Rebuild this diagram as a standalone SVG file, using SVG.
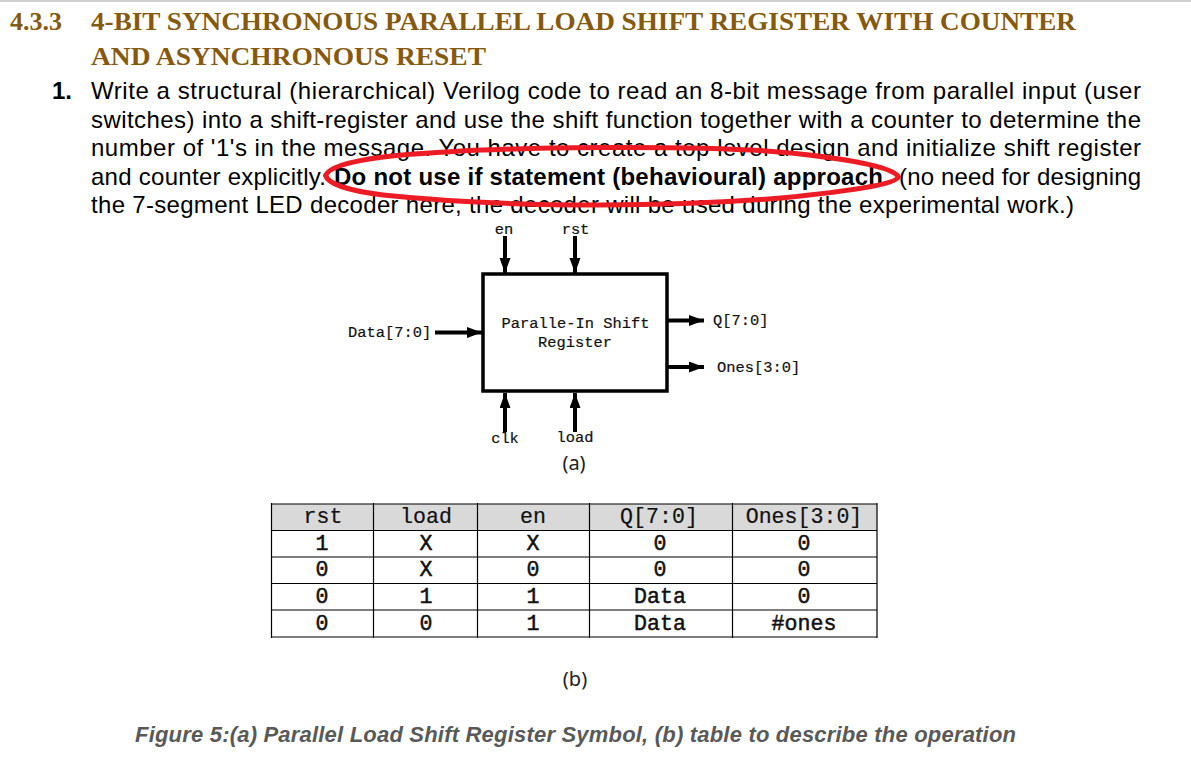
<svg xmlns="http://www.w3.org/2000/svg" width="1191" height="765" viewBox="0 0 1191 765">
<style>
.h{font:bold 25.5px "Liberation Serif",serif;fill:#855a0f}
.b{font:24px "Liberation Sans",Arial,sans-serif;fill:#000}
.bb{font:bold 24px "Liberation Sans",Arial,sans-serif;fill:#000}
.m{font:15.4px "Liberation Mono","Courier New",monospace;fill:#111;stroke:#111;stroke-width:.2}
.t{font:21.6px "Liberation Mono","Courier New",monospace;fill:#111;text-anchor:middle;stroke:#111;stroke-width:.2}
.d{stroke-width:.5}
.c{font:20px "Noto Sans","Open Sans",sans-serif;fill:#222;text-anchor:middle}
.cap{font:italic bold 22px "Liberation Sans",Arial,sans-serif;fill:#595959}
.w{stroke:#000;stroke-width:4;fill:none;marker-end:url(#a)}
.g{stroke:#000;stroke-width:1.2;fill:none}
</style>
<defs><marker id="a" markerUnits="userSpaceOnUse" markerWidth="16" markerHeight="12" refX="15" refY="5.500" orient="auto"><path d="M0 0L15 5.500L0 11z" fill="#000"/></marker></defs>
<rect width="1191" height="2" fill="#cfcfcf"/>
<g id="heading">
<text class="h" x="10" y="30" textLength="52" lengthAdjust="spacingAndGlyphs">4.3.3</text>
<text class="h" x="91" y="30" textLength="985" lengthAdjust="spacingAndGlyphs">4-BIT SYNCHRONOUS PARALLEL LOAD SHIFT REGISTER WITH COUNTER</text>
<text class="h" x="91" y="65" textLength="395" lengthAdjust="spacingAndGlyphs">AND ASYNCHRONOUS RESET</text>
</g>
<g id="paragraph">
<text class="bb" x="52" y="99">1.</text>
<text class="b" x="91" y="99" textLength="1050">Write a structural (hierarchical) Verilog code to read an 8-bit message from parallel input (user</text>
<text class="b" x="91" y="128" textLength="1050">switches) into a shift-register and use the shift function together with a counter to determine the</text>
<text class="b" x="91" y="156" textLength="1050">number of '1's in the message. You have to create a top level design and initialize shift register</text>
<text class="b" x="91" y="185" textLength="235">and counter explicitly.</text>
<text class="bb" x="334" y="185" textLength="549">Do not use if statement (behavioural) approach</text>
<text class="b" x="899" y="185" textLength="242">(no need for designing</text>
<text class="b" x="91" y="213" textLength="983">the 7-segment LED decoder here, the decoder will be used during the experimental work.)</text>
</g>
<path id="highlight" d="M325.500 175.500C329 167 352 161 383 157C440 151 520 148 600 147.500C680 147 750 148 800 154C855 160 894 168 898.500 177C895 184 860 190 781 198C720 203 660 205 600 205C520 205 450 202 383 195C350 191 328 184 325.500 175.500Z" fill="none" stroke="#ed1c24" stroke-width="5"/>
<g id="connectors">
<path class="w" d="M505 236V273"/>
<path class="w" d="M575 236V273"/>
<path class="w" d="M435 332.500H482"/>
<path class="w" d="M668 320.500H704"/>
<path class="w" d="M668 367H704"/>
<path class="w" d="M505 432V393"/>
<path class="w" d="M575 432V393"/>
</g>
<g id="register">
<rect x="483" y="274" width="184" height="117" fill="#fff" stroke="#000" stroke-width="3.500"/>
<text class="m" x="575.500" y="328" text-anchor="middle">Paralle-In Shift</text>
<text class="m" x="575" y="347" text-anchor="middle">Register</text>
</g>
<g id="labels">
<text class="m" x="504" y="234" text-anchor="middle">en</text>
<text class="m" x="575.500" y="234" text-anchor="middle">rst</text>
<text class="m" x="348" y="337">Data[7:0]</text>
<text class="m" x="713" y="325">Q[7:0]</text>
<text class="m" x="717" y="372">Ones[3:0]</text>
<text class="m" x="505" y="443" text-anchor="middle">clk</text>
<text class="m" x="575" y="442" text-anchor="middle">load</text>
<text class="c" x="574" y="470">(a)</text>
</g>
<g id="table">
<rect x="271" y="504" width="606" height="26.500" fill="#d9d9d9"/>
<path class="g" d="M271 504H877M271 530.500H877M271 557H877M271 583.500H877M271 610H877M271 637H877M271.500 503V638M373.500 503V638M477.500 503V638M589.500 503V638M732.500 503V638M877 503V638"/>
<text class="t" x="323" y="523">rst</text><text class="t" x="426" y="523">load</text><text class="t" x="533" y="523">en</text><text class="t" x="659" y="523">Q[7:0]</text><text class="t" x="804" y="523">Ones[3:0]</text>
<text class="t d" x="322" y="550">1</text><text class="t d" x="426" y="550">X</text><text class="t d" x="533" y="550">X</text><text class="t d" x="660" y="550">0</text><text class="t d" x="804" y="550">0</text>
<text class="t d" x="322" y="576">0</text><text class="t d" x="426" y="576">X</text><text class="t d" x="533" y="576">0</text><text class="t d" x="660" y="576">0</text><text class="t d" x="804" y="576">0</text>
<text class="t d" x="322" y="603">0</text><text class="t d" x="426" y="603">1</text><text class="t d" x="533" y="603">1</text><text class="t d" x="660" y="603">Data</text><text class="t d" x="804" y="603">0</text>
<text class="t d" x="322" y="630">0</text><text class="t d" x="426" y="630">0</text><text class="t d" x="533" y="630">1</text><text class="t d" x="660" y="630">Data</text><text class="t d" x="804" y="630">#ones</text>
<text class="c" x="575" y="686">(b)</text>
</g>
<text id="caption" class="cap" x="135" y="742" textLength="881">Figure 5:(a) Parallel Load Shift Register Symbol, (b) table to describe the operation</text>
</svg>
